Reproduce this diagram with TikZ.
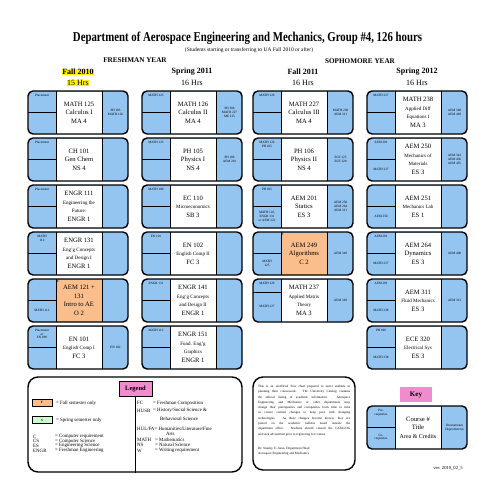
\documentclass[tikz,border=0pt]{standalone}
\usepackage{fontspec}
\setmainfont{Liberation Serif}
\definecolor{boxblue}{RGB}{148,196,240}
\definecolor{fallorange}{RGB}{250,190,140}
\definecolor{legpink}{RGB}{240,140,205}
\definecolor{sprgreen}{RGB}{204,255,204}
\newcommand\fsA{\fontsize{6.6}{8.6}\selectfont}
\newcommand\fsB{\fontsize{5}{6}\selectfont}
\newcommand\fsT{\fontsize{3.3}{3.7}\selectfont}
\newcommand\fsL{\fontsize{4.9}{5.5}\selectfont}
\newcommand\fsD{\fontsize{3.25}{5.3}\selectfont}
\def\splitY{21.5}
\tikzset{
  cbox/.style={draw, rounded corners=5pt, line width=1.4pt, minimum width=100pt, minimum height=43pt, inner sep=0pt, outer sep=0pt},
  divider/.style={line width=0.7pt},
  pretext/.style={font=\fsT, align=center, inner sep=0pt},
  midtext/.style={font=\fsA, align=center, inner sep=0pt},
  fmark/.style={font=\fsT\bfseries, inner sep=0pt},
  leg/.style={font=\fsL, inner sep=0pt, anchor=west},
  pinkbox/.style={draw, fill=legpink, line width=0.6pt, font=\fontsize{6.5}{7}\selectfont\bfseries, inner sep=0pt},
  roundbox/.style={draw, rounded corners=10pt, line width=1.4pt, inner sep=0pt}
}
% #1 name #2 x #3 y #4 pre #5 co #6 mid #7 dependencies #8 mid fill
\newcommand\course[8]{%
  \fill[boxblue, rounded corners=5pt] (#2,#3) rectangle ++(100,43);
  \fill[#8] ({#2+28},{#3+0.5}) rectangle ({#2+74},{#3+42.5});
  \draw[divider] ({#2+28},#3) -- ({#2+28},{#3+43});
  \draw[divider] ({#2+74},#3) -- ({#2+74},{#3+43});
  \draw[divider] (#2,{#3+\splitY}) -- ({#2+28},{#3+\splitY});
  \node[cbox] (#1) at ({#2+50},{#3+21.5}) {};
  \node[pretext, anchor=north] (#1-pre) at ({#2+14},{#3+3}) {#4};
  \node[pretext] (#1-co) at ({#2+14},{#3+(\splitY+43)/2-1}) {#5};
  \node[midtext] (#1-t) at ({#2+51},{#3+21.5}) {#6};
  \node[pretext] (#1-dep) at ({#2+87.5},{#3+21.5}) {#7};
}
\begin{document}
\begin{tikzpicture}[x=1pt,y=-1pt]
\useasboundingbox (0,0) rectangle (495,495);
% headings
\node[font=\bfseries\fontsize{13.5}{15}\selectfont, inner sep=0pt] (title) at (247.5,38) {\scalebox{0.8}[1]{Department of Aerospace Engineering and Mechanics, Group \#4, 126 hours}};
\node[font=\fontsize{5.5}{7}\selectfont, inner sep=0pt] (subtitle) at (249,50) {(Students starting or transferring to UA Fall 2010 or after)};
\node[font=\bfseries\fontsize{7.2}{9}\selectfont, inner sep=0pt] (fresh) at (135,60) {FRESHMAN YEAR};
\node[font=\bfseries\fontsize{7.2}{9}\selectfont, inner sep=0pt] (soph) at (360,61) {SOPHOMORE YEAR};
\node[font=\bfseries\fontsize{8}{9}\selectfont, fill=yellow, inner sep=0.4pt] (s1) at (78,72) {Fall 2010};
\node[font=\fontsize{8}{9}\selectfont, fill=yellow, inner sep=0.4pt] (s1h) at (78,83) {15 Hrs};
\node[font=\bfseries\fontsize{8}{9}\selectfont, inner sep=0.4pt] (s2) at (192,72) {Spring 2011};
\node[font=\fontsize{8}{9}\selectfont, inner sep=0.4pt] (s2h) at (192,83) {16 Hrs};
\node[font=\bfseries\fontsize{8}{9}\selectfont, inner sep=0.4pt] (s3) at (303,72) {Fall 2011};
\node[font=\fontsize{8}{9}\selectfont, inner sep=0.4pt] (s3h) at (303,83) {16 Hrs};
\node[font=\bfseries\fontsize{8}{9}\selectfont, inner sep=0.4pt] (s4) at (417,72) {Spring 2012};
\node[font=\fontsize{8}{9}\selectfont, inner sep=0.4pt] (s4h) at (417,83) {16 Hrs};
% column 1
\course{math125}{28}{91}{Placement}{}{MATH 125\\Calculus I\\MA 4}{PH 105\\MATH 126}{white}
\course{ch101}{28}{138}{Placement}{}{CH 101\\Gen Chem\\NS 4}{}{white}
\course{engr111}{28}{185}{Placement}{}{ENGR 111\\{\fsB Engineering the}\\{\fsB Future:}\\ENGR 1}{}{white}
\course{engr131}{28}{232}{MATH\\112}{}{ENGR 131\\{\fsB Eng'g Concepts}\\{\fsB and Design I}\\ENGR 1}{}{white}
\course{aem121}{28}{279}{}{MATH 112}{AEM 121 +\\131\\Intro to AE\\O 2}{}{fallorange}
\course{en101}{28}{326}{Placement\\or\\EN 099}{}{EN 101\\{\fsB English Comp I}\\FC 3}{EN 102}{white}
% column 2
\course{math126}{142}{91}{MATH 125}{}{MATH 126\\Calculus II\\MA 4}{PH 106\\MATH 227\\ME 215}{white}
\course{ph105}{142}{138}{MATH 125}{}{PH 105\\Physics I\\NS 4}{PH 106\\AEM 201}{white}
\course{ec110}{142}{185}{MATH 100}{}{EC 110\\{\fsB Microeconomics}\\SB 3}{}{white}
\course{en102}{142}{232}{EN 101}{}{EN 102\\{\fsB English Comp II}\\FC 3}{}{white}
\course{engr141}{142}{279}{ENGR 131}{}{ENGR 141\\{\fsB Eng'g Concepts}\\{\fsB and Design II}\\ENGR 1}{}{white}
\course{engr151}{142}{326}{MATH 112}{}{ENGR 151\\{\fsB Fund. Eng'g}\\{\fsB Graphics}\\ENGR 1}{}{white}
% column 3
\course{math227}{253}{91}{MATH 126}{}{MATH 227\\Calculus III\\MA 4}{MATH 238\\AEM 311}{white}
\course{ph106}{253}{138}{MATH 126\\PH 105}{}{PH 106\\Physics II\\NS 4}{ECE 225\\ECE 320}{white}
\course{aem201}{253}{185}{PH 105}{MATH 126,\\ENGR 131\\or AEM 121}{AEM 201\\Statics\\ES 3}{AEM 250\\AEM 264\\AEM 311}{white}
\course{aem249}{253}{232}{}{MATH\\125}{AEM 249\\Algorithms\\C 2}{AEM 349}{fallorange}
{\def\splitY{13}
\course{math237}{253}{279}{MATH 126}{MATH 227}{MATH 237\\{\fsB Applied Matrix}\\{\fsB Theory}\\MA 3}{AEM 349}{white}}
% column 4
\course{math238}{367}{91}{MATH 227}{}{MATH 238\\{\fsB Applied Diff}\\{\fsB Equations I}\\MA 3}{AEM 368\\AEM 469}{white}
\course{aem250}{367}{138}{AEM 201}{MATH 227}{AEM 250\\{\fsB Mechanics of}\\{\fsB Materials}\\ES 3}{AEM 341\\AEM 456\\AEM 455}{white}
\course{aem251}{367}{185}{}{AEM 250}{AEM 251\\{\fsB Mechanics Lab}\\ES 1}{}{white}
\course{aem264}{367}{232}{AEM 201}{MATH 227}{AEM 264\\Dynamics\\ES 3}{AEM 400}{white}
\course{aem311}{367}{279}{AEM 201}{MATH 238}{AEM 311\\{\fsB Fluid Mechanics}\\ES 3}{AEM 313}{white}
\course{ece320}{367}{326}{PH 106}{MATH 238}{ECE 320\\{\fsB Electrical Sys}\\ES 3}{}{white}
% fall markers
\node[fmark, anchor=north west] (aem249-f) at (281.5,233.5) {F};
\node[fmark, anchor=north west] (aem121-f) at (57,280.5) {F};
% legend
\node[roundbox, minimum width=214pt, minimum height=95pt] (legend) at (135,424.5) {};
\node[pinkbox, minimum width=33pt, minimum height=15pt] (legendlabel) at (135.5,388.5) {Legend};
\draw[line width=0.6pt] (legendlabel.south) -- (legendlabel.south |- legend.south);
\node[draw, fill=fallorange, line width=0.6pt, minimum width=20pt, minimum height=7pt, inner sep=0pt, font=\fsT\bfseries] (fkey) at (42,402.5) {F};
\node[leg] (fdesc) at (56,403) {= Fall semester only};
\node[draw, fill=sprgreen, line width=0.6pt, minimum width=20pt, minimum height=7pt, inner sep=0pt, font=\fsT\bfseries] (skey) at (42,420) {S};
\node[leg] (sdesc) at (56,420.5) {= Spring semester only};
\node[leg] (lc) at (33,436.5) {C};
\node[leg] (lcd) at (55,436.5) {= Computer requirement};
\node[leg] (lcs) at (33,441.2) {CS};
\node[leg] (lcsd) at (55,441.2) {= Computer Science};
\node[leg] (les) at (33,445.9) {ES};
\node[leg] (lesd) at (55,445.9) {= Engineering Science};
\node[leg] (lengr) at (33,450.6) {ENGR};
\node[leg] (lengrd) at (55,450.6) {= Freshman Engineering};
\node[leg] (rfc) at (137,403.3) {FC};
\node[leg] (rfcd) at (153,403.3) {= Freshman Composition};
\node[leg] (rhusb) at (137,410.7) {HUSB};
\node[leg] (rhusbd) at (153,410.7) {= History/Social Science \&};
\node[leg] (rhusb2) at (160,418.5) {Behavioral Science};
\node[leg] (rhul) at (137,428.5) {HUL/FA= Humanities/Literature/Fine};
\node[leg] (rhul2) at (166,434.3) {Arts};
\node[leg] (rmath) at (137,440) {MATH};
\node[leg] (rmathd) at (155,440) {= Mathematics};
\node[leg] (rns) at (137,445.3) {NS};
\node[leg] (rnsd) at (155,445.3) {= Natural Science};
\node[leg] (rw) at (137,450.7) {W};
\node[leg] (rwd) at (155,450.7) {= Writing requirement};
% disclaimer
\node[roundbox, minimum width=102pt, minimum height=93pt] (disc) at (304,423.5) {};
\node[font=\fsD, text width=92pt, align=justify, inner sep=0pt, anchor=north west] (disctext) at (258,385) {This is an unofficial flow chart prepared to assist students in\linebreak planning their coursework. The University Catalog contains\linebreak the official listing of academic information. Aerospace\linebreak Engineering and Mechanics or other departments may\linebreak change their prerequisites and corequisites from time to time\linebreak as course content changes to keep pace with changing\linebreak technologies. As these changes become known, they are\linebreak posted on the academic bulletin board outside the\linebreak department office. Students should consult the CATALOG\linebreak and seek advisement prior to registering for courses.};
\node[font=\fontsize{3.25}{4.8}\selectfont, align=left, inner sep=0pt, anchor=north west] (discsig) at (258,447) {Dr. Stanley E. Jones, Department Head\\Aerospace Engineering and Mechanics};
% key
\node[pinkbox, draw=none, minimum width=32pt, minimum height=15pt, font=\fontsize{7}{8}\selectfont\bfseries] (keylabel) at (416,394.5) {Key};
\course{key}{367}{406}{Pre-\\requisites}{Co-\\requisites}{Course \#\\Title\\{\fontsize{6}{7}\selectfont Area \& Credits}}{Downstream\\Dependencies}{white}
\node[font=\fontsize{4.6}{5}\selectfont, inner sep=0pt] (ver) at (448,468) {ver: 2010\_02\_5};
\end{tikzpicture}
\end{document}
